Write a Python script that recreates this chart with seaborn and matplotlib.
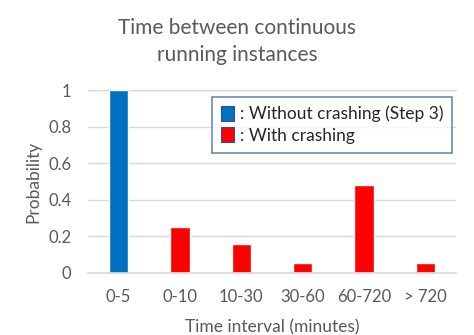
import matplotlib
matplotlib.use("Agg")
import matplotlib.pyplot as plt
import seaborn as sns
import pandas as pd

categories = ["0-5", "0-10", "10-30", "30-60", "60-720", "> 720"]
probabilities = [1.0, 0.25, 0.155, 0.05, 0.48, 0.05]
groups = [": Without crashing (Step 3)", ": With crashing", ": With crashing",
          ": With crashing", ": With crashing", ": With crashing"]
y_ticks = [0, 0.2, 0.4, 0.6, 0.8, 1]
y_tick_labels = ["0", "0.2", "0.4", "0.6", "0.8", "1"]

df = pd.DataFrame({"Interval": categories, "Probability": probabilities, "Group": groups})

sns.set_theme(style="white")
plt.rcParams["font.family"] = ["Lato", "DejaVu Sans"]

gray = "#595959"
fig = plt.figure(figsize=(4.74, 3.35), dpi=100)
ax = fig.add_axes([88/474, 1-272.5/335, (456-88)/474, (272.5-90.3)/335])

palette = {": Without crashing (Step 3)": "#0070C0", ": With crashing": "#FF0000"}
sns.barplot(data=df, x="Interval", y="Probability", hue="Group", dodge=False,
            palette=palette, width=0.32, ax=ax, saturation=1, order=categories)

ax.set_ylim(0, 1)
ax.set_yticks(y_ticks)
ax.set_yticklabels(y_tick_labels)
ax.yaxis.grid(True, color="#D9D9D9", linewidth=1)
ax.set_axisbelow(True)
for s in ["top", "right", "left"]:
    ax.spines[s].set_visible(False)
ax.spines["bottom"].set_color("#D9D9D9")
ax.tick_params(axis="both", length=0, colors=gray, labelsize=12)
ax.tick_params(axis="y", pad=12)
ax.tick_params(axis="x", pad=12)
ax.set_xlabel("Time interval (minutes)", color=gray, fontsize=12.5, labelpad=10)
ax.set_ylabel("Probability", color=gray, fontsize=12.5, labelpad=5)

ax.axhline(1, color="#D9D9D9", linewidth=1, zorder=0, clip_on=False)

leg = ax.legend(loc="upper right", bbox_to_anchor=(452/474, 1-97/335),
                bbox_transform=fig.transFigure, frameon=True, fancybox=False,
                fontsize=12.5, handlelength=0.75, handleheight=0.95, handletextpad=0.35,
                borderpad=0.5, labelspacing=0.3, borderaxespad=0)
leg.get_frame().set_edgecolor("#41719C")
leg.get_frame().set_linewidth(1.2)
for t in leg.get_texts():
    t.set_color("#262626")
for h in leg.legend_handles:
    h.set_edgecolor("#2F528F")
    h.set_linewidth(0.8)

fig.text(0.5, 1-28/335, "Time between continuous", ha="center", va="center",
         fontsize=15, color=gray)
fig.text(0.5, 1-55/335, "running instances", ha="center", va="center",
         fontsize=15, color=gray)

fig.savefig("out.png", dpi=100)
